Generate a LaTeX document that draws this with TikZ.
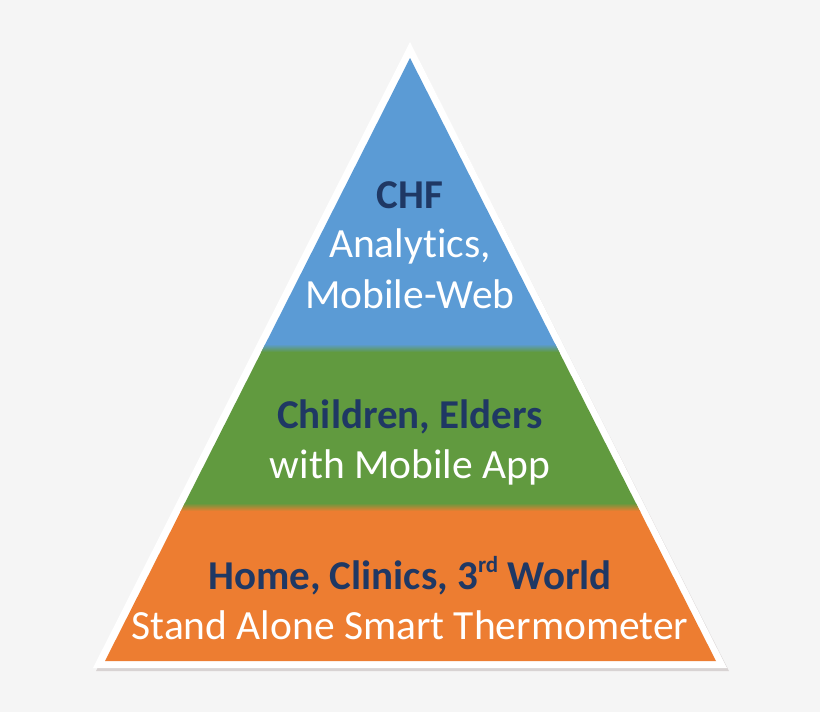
\documentclass[tikz,border=0pt]{standalone}
\usepackage{fontspec}
\setmainfont{Carlito}[Ligatures=NoCommon]
\definecolor{bgc}{HTML}{F5F5F5}
\definecolor{shadowc}{HTML}{D8D3D3}
\definecolor{pblue}{HTML}{5B9BD5}
\definecolor{pgreen}{HTML}{619A3F}
\definecolor{porange}{HTML}{ED7D31}
\definecolor{navy}{HTML}{1F3864}
\newcommand{\supr}[1]{\raisebox{17pt}{\fontsize{23}{23}\selectfont #1}}
\begin{document}
\begin{tikzpicture}[x=1pt,y=-1pt,
  head/.style={anchor=base,text=navy,font=\fontsize{41}{48}\selectfont\bfseries,inner sep=0pt},
  sub/.style={anchor=base,text=white,font=\fontsize{41.5}{48}\selectfont,inner sep=0pt}]
\useasboundingbox (0,0) rectangle (820,712);
\fill[bgc] (0,0) rectangle (820,712);
% shadow
\fill[shadowc] (411,45) -- (96,671) -- (729,671) -- cycle;
% white border
\fill[white] (410,42) -- (93,668) -- (727,668) -- cycle;
% coloured pyramid
\begin{scope}
\clip (410,58) -- (105,661) -- (716,661) -- cycle;
\fill[pblue] (90,50) rectangle (730,348);
\fill[pgreen] (90,348) rectangle (730,507);
\fill[porange] (90,507) rectangle (730,670);
\shade[top color=pblue,bottom color=pgreen] (90,344) rectangle (730,352);
\shade[top color=pgreen,bottom color=porange] (90,503) rectangle (730,511);
\end{scope}
% texts
\node[head] (chf) at (410,208) {CHF};
\node[sub] (ana) at (410,257) {Analytics,};
\node[sub] (mob) at (410,308) {Mobile-Web};
\node[head] (chi) at (410,428) {Children, Elders};
\node[sub] (app) at (410,478) {with Mobile App};
\node[head] (home) at (410,589) {Home, Clinics, 3\supr{rd} World};
\node[sub] (sat) at (410,639) {Stand Alone Smart Thermometer};
\end{tikzpicture}
\end{document}
